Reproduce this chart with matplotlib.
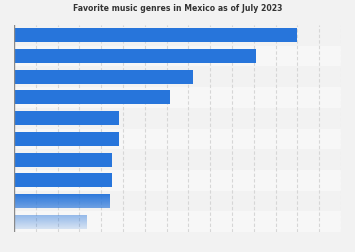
import matplotlib
matplotlib.use("Agg")
import matplotlib.pyplot as plt
import numpy as np
from matplotlib.colors import to_rgb

# share of respondents (%); genre labels are not shown
SHARES = [65.0, 55.5, 41.0, 35.8, 24.1, 24.1, 22.5, 22.4, 22.0, 16.7]
GRID_TICKS = [5, 10, 15, 20, 25, 30, 35, 40, 45, 50, 55, 60, 65, 70, 75]
TITLE = "Favorite music genres in Mexico as of July 2023"

BG = "#f2f2f2"
BAND = "#f7f7f7"
BLUE = "#2775db"


def main():
    fig = plt.figure(figsize=(3.55, 2.53), dpi=100, facecolor=BG)
    ax = fig.add_axes([14 / 355, 1 - 233 / 253, 327 / 355, 207 / 253])
    ax.set_facecolor(BG)

    n = len(SHARES)
    ypos = np.arange(n)
    height = 0.68
    ax.set_xlim(0, 75)
    ax.set_ylim(n - 0.5, -0.5)

    for i in range(n):
        if i % 2 == 1:
            ax.axhspan(i - 0.5, i + 0.5, color=BAND, zorder=0, lw=0)

    for x in GRID_TICKS:
        ax.axvline(x, color="#d6d6d6", lw=0.8, ls=(0, (3, 2)), zorder=1)
    ax.axvline(0, color="#8a8a8a", lw=1.0, zorder=4)

    rgb = to_rgb(BLUE)
    for y, v in zip(ypos, SHARES):
        if y < n - 2:
            ax.barh(y, v, height=height, color=BLUE, zorder=2, lw=0)
            continue
        # bottom rows fade out
        bar = ax.barh(y, v, height=height, color="none", zorder=2, lw=0)[0]
        rows = 40
        top_px = 26 + (y - height / 2 + 0.5) * 20.7
        pix = top_px + np.linspace(0, height * 20.7, rows)
        alpha = np.clip(0.97 - (pix - 196) * 0.024, 0.08, 1.0)
        img = np.zeros((rows, 2, 4))
        img[..., :3] = rgb
        img[..., 3] = alpha[:, None]
        im = ax.imshow(img, extent=(0, v, y + height / 2, y - height / 2),
                       origin="upper", aspect="auto", zorder=2,
                       interpolation="bilinear")
        im.set_clip_path(bar)

    ax.set_xlim(0, 75)
    ax.set_ylim(n - 0.5, -0.5)
    ax.set_xticks([])
    ax.set_yticks([])
    for side in ax.spines.values():
        side.set_visible(False)

    fig.text(0.5, 1 - 8.5 / 253, TITLE, ha="center", va="center",
             fontsize=5.6, fontweight="bold", color="#333333")

    fig.savefig("out.png", dpi=100, facecolor=BG)
    plt.close(fig)


if __name__ == "__main__":
    main()
